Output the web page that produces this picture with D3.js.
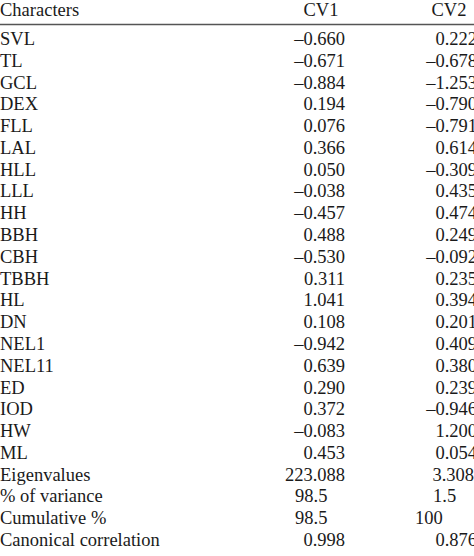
<!DOCTYPE html><html><head><meta charset="utf-8"><script src="https://cdn.jsdelivr.net/npm/d3@7"></script>
<style>body{margin:0;background:#fff}text{font-family:"Liberation Serif","Times New Roman",serif;font-size:18.5px;fill:#1a1a1a}</style></head><body><svg id="c" width="474" height="556"></svg><script>
const headers=["Characters","CV1","CV2"];
const characters=["SVL","TL","GCL","DEX","FLL","LAL","HLL","LLL","HH","BBH","CBH","TBBH","HL","DN","NEL1","NEL11","ED","IOD","HW","ML"];
const cv1=["–0.660","–0.671","–0.884","0.194","0.076","0.366","0.050","–0.038","–0.457","0.488","–0.530","0.311","1.041","0.108","–0.942","0.639","0.290","0.372","–0.083","0.453"];
const cv2=["0.222","–0.678","–1.253","–0.790","–0.791","0.614","–0.309","0.435","0.474","0.249","–0.092","0.235","0.394","0.201","0.409","0.380","0.239","–0.946","1.200","0.054"];
const summaryLabels=["Eigenvalues","% of variance","Cumulative %","Canonical correlation"];
const summaryCV1=["223.088","98.5","98.5","0.998"];
const summaryCV2=["3.308","1.5","100","0.876"];
const svg=d3.select("#c");
const labels=characters.concat(summaryLabels);
const y=d3.scalePoint().domain(d3.range(labels.length)).range([45,546]);
svg.append("text").attr("x",0).attr("y",16).text(headers[0]);
svg.append("text").attr("x",321).attr("y",16).attr("text-anchor","middle").text(headers[1]);
svg.append("text").attr("x",449).attr("y",16).attr("text-anchor","middle").text(headers[2]);
svg.append("line").attr("x1",0).attr("x2",474).attr("y1",24.5).attr("y2",24.5).attr("stroke","#555").attr("stroke-width",1.5);
labels.forEach((l,i)=>{
  const yy=y(i);
  svg.append("text").attr("x",0).attr("y",yy).text(l);
  let a,b;
  if(i<characters.length){a=cv1[i];b=cv2[i];
    svg.append("text").attr("x",345).attr("y",yy).attr("text-anchor","end").text(a);
    svg.append("text").attr("x",477).attr("y",yy).attr("text-anchor","end").text(b);
  } else {const j=i-characters.length;a=summaryCV1[j];b=summaryCV2[j];
    if(j==0){svg.append("text").attr("x",345).attr("y",yy).attr("text-anchor","end").text(a);
      svg.append("text").attr("x",474).attr("y",yy).attr("text-anchor","end").text(b);}
    else if(j==3){svg.append("text").attr("x",345).attr("y",yy).attr("text-anchor","end").text(a);
      svg.append("text").attr("x",477).attr("y",yy).attr("text-anchor","end").text(b);}
    else {svg.append("text").attr("x",295).attr("y",yy).text(a);
      svg.append("text").attr("x",j==2?415:433).attr("y",yy).text(b);}
  }
});
</script></body></html>
